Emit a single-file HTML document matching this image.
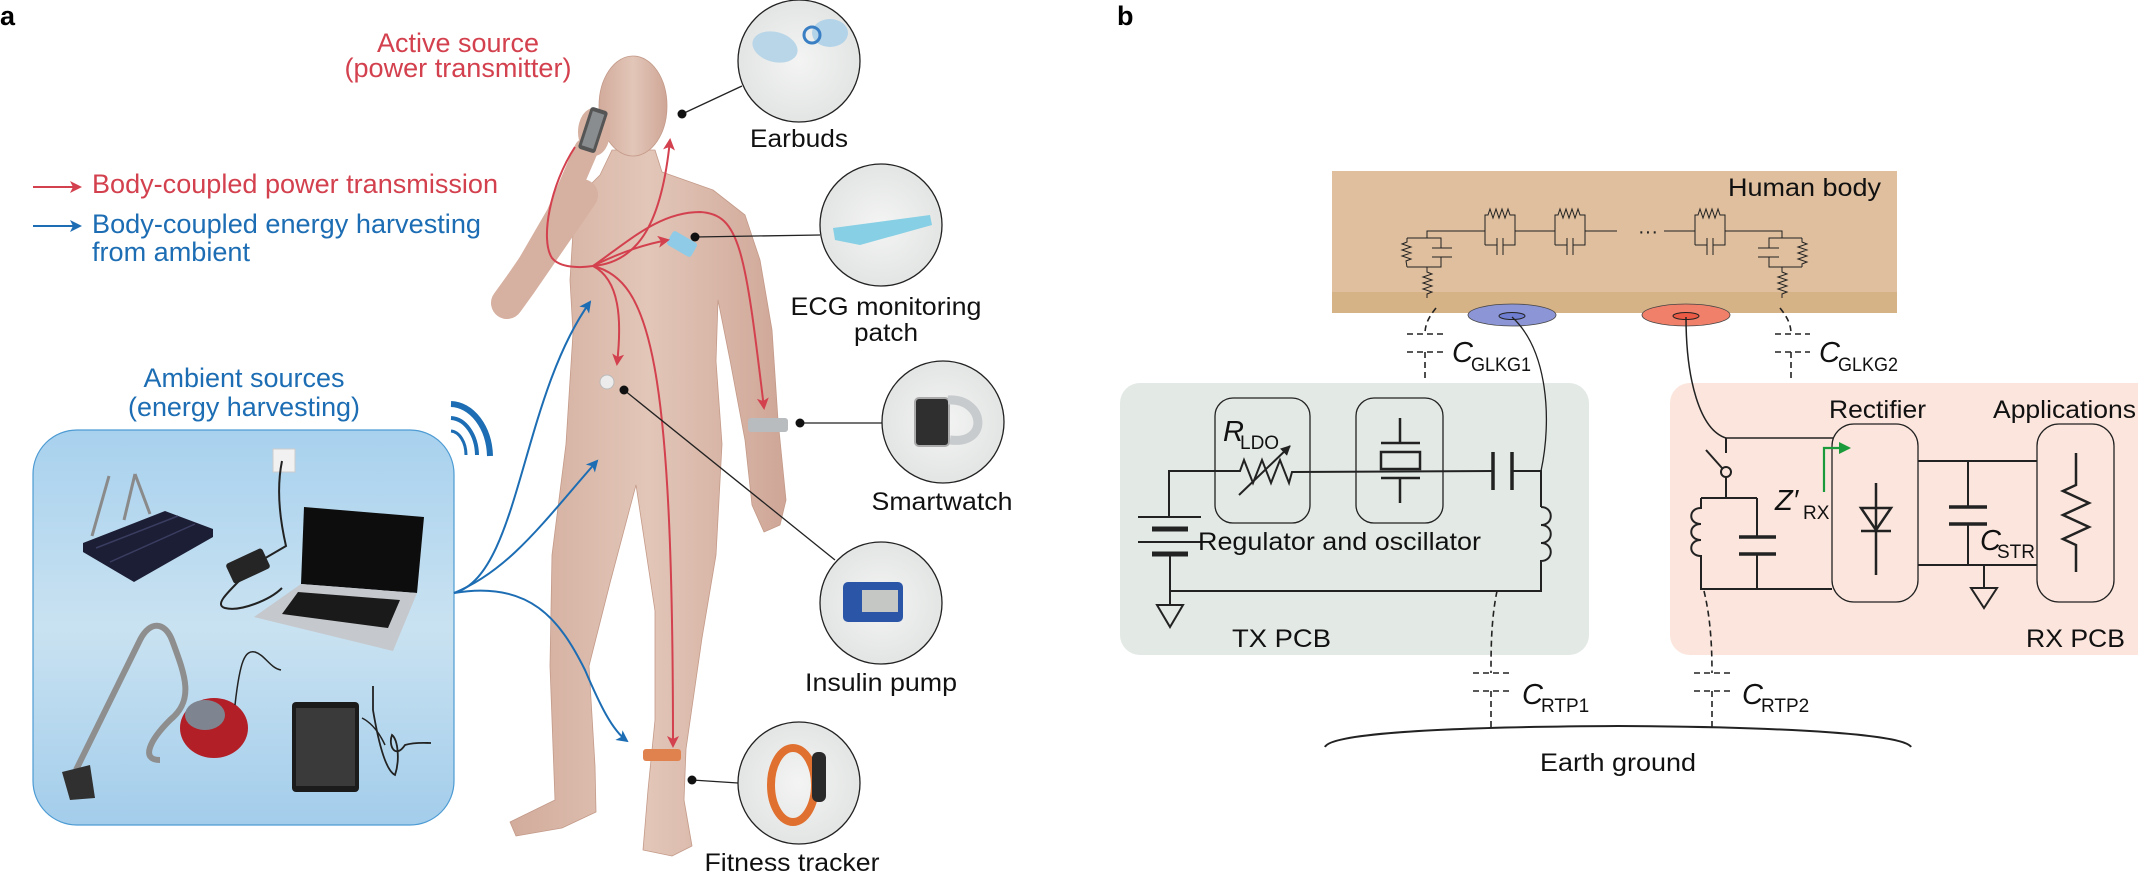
<!DOCTYPE html>
<html><head><meta charset="utf-8"><style>
html,body{margin:0;padding:0;background:#fff;}
svg{display:block;}
text{font-family:"Liberation Sans",sans-serif;}
</style></head><body>
<svg width="2138" height="873" viewBox="0 0 2138 873" xmlns="http://www.w3.org/2000/svg">
<defs>
<linearGradient id="bx" x1="0" y1="0" x2="0" y2="1"><stop offset="0" stop-color="#a8d1ee"/><stop offset="0.5" stop-color="#c9e2f1"/><stop offset="1" stop-color="#a3cdeb"/></linearGradient>
<radialGradient id="ci" cx="0.5" cy="0.5" r="0.5"><stop offset="0" stop-color="#f3f4f3"/><stop offset="1" stop-color="#e3e5e4"/></radialGradient>
<linearGradient id="sk" x1="0" y1="0" x2="1" y2="0"><stop offset="0" stop-color="#d2ab9b"/><stop offset="0.5" stop-color="#e2c6b8"/><stop offset="1" stop-color="#cfa697"/></linearGradient>
<marker id="ar" markerWidth="12" markerHeight="12" refX="10" refY="6" orient="auto" markerUnits="userSpaceOnUse"><path d="M0,0 L12,6 L0,12 L3,6z" fill="#d3404e"/></marker>
<marker id="ab" markerWidth="12" markerHeight="12" refX="10" refY="6" orient="auto" markerUnits="userSpaceOnUse"><path d="M0,0 L12,6 L0,12 L3,6z" fill="#1c6db3"/></marker>
<marker id="ag" markerWidth="12" markerHeight="12" refX="10" refY="6" orient="auto" markerUnits="userSpaceOnUse"><path d="M0,0 L12,6 L0,12z" fill="#1a9a3a"/></marker>
<marker id="ak" markerWidth="10" markerHeight="10" refX="9" refY="5" orient="auto" markerUnits="userSpaceOnUse"><path d="M0,0 L10,5 L0,10z" fill="#222"/></marker>
</defs>

<!-- ============ Panel a ============ -->
<text x="0" y="25" font-size="27" font-weight="bold">a</text>
<text x="458" y="52" font-size="27" fill="#d3404e" text-anchor="middle" textLength="162" lengthAdjust="spacingAndGlyphs">Active source</text>
<text x="458" y="77" font-size="27" fill="#d3404e" text-anchor="middle" textLength="227" lengthAdjust="spacingAndGlyphs">(power transmitter)</text>

<line x1="33" y1="187" x2="80" y2="187" stroke="#d3404e" stroke-width="2" marker-end="url(#ar)"/>
<text x="92" y="193" font-size="27" fill="#d3404e" textLength="406" lengthAdjust="spacingAndGlyphs">Body-coupled power transmission</text>
<line x1="33" y1="226" x2="80" y2="226" stroke="#1c6db3" stroke-width="2" marker-end="url(#ab)"/>
<text x="92" y="233" font-size="27" fill="#1c6db3" textLength="389" lengthAdjust="spacingAndGlyphs">Body-coupled energy harvesting</text>
<text x="92" y="261" font-size="27" fill="#1c6db3" textLength="158" lengthAdjust="spacingAndGlyphs">from ambient</text>

<text x="244" y="387" font-size="27" fill="#1c6db3" text-anchor="middle" textLength="201" lengthAdjust="spacingAndGlyphs">Ambient sources</text>
<text x="244" y="416" font-size="27" fill="#1c6db3" text-anchor="middle" textLength="232" lengthAdjust="spacingAndGlyphs">(energy harvesting)</text>

<rect x="33" y="430" width="421" height="395" rx="44" fill="url(#bx)" stroke="#4d9bd3" stroke-width="1.2"/>
<g fill="none" stroke="#1c6db3">
<path d="M451,404 A40,54 0 0 1 490,456" stroke-width="6"/>
<path d="M451,418 A27,38 0 0 1 477,455" stroke-width="4"/>
<path d="M451,431 A16,24 0 0 1 466,455" stroke-width="3"/>
</g>
<line x1="109" y1="476" x2="92" y2="536" stroke="#8a8a8a" stroke-width="3"/>
<line x1="135" y1="474" x2="150" y2="514" stroke="#8a8a8a" stroke-width="3"/>
<line x1="135" y1="474" x2="124" y2="520" stroke="#8a8a8a" stroke-width="3"/>
<polygon points="83,543 165,511 213,529 213,537 134,582 83,552" fill="#1c1e35"/>
<path d="M96,548 L178,516 M110,562 L195,524" stroke="#3a3d60" stroke-width="1.5"/>
<rect x="273" y="449" width="22" height="23" fill="#f1f1f1" stroke="#ccc"/>
<path d="M282,461 C276,490 280,520 286,546 L262,560" fill="none" stroke="#222" stroke-width="2"/>
<rect x="228" y="555" width="40" height="22" rx="3" fill="#252525" transform="rotate(-25 248 566)"/>
<path d="M240,580 C225,595 215,605 225,608 C240,612 270,600 282,588" fill="none" stroke="#222" stroke-width="2"/>
<polygon points="304,507 424,517 417,593 301,584" fill="#0d0d0d"/>
<polygon points="301,584 417,593 393,651 254,617" fill="#c5c8cc"/>
<polygon points="298,592 400,600 388,628 282,614" fill="#1a1a1a"/>
<path d="M76,770 L140,640 C150,620 165,622 172,640 C185,675 195,700 170,720 C150,740 140,760 160,760" fill="none" stroke="#8e8e8e" stroke-width="6"/>
<path d="M62,772 L90,765 L95,798 L70,800 Z" fill="#303030"/>
<ellipse cx="214" cy="728" rx="34" ry="30" fill="#b21f27"/>
<ellipse cx="205" cy="715" rx="20" ry="15" fill="#7f8590"/>
<path d="M235,705 C240,660 245,650 255,652 C265,655 270,668 281,670" fill="none" stroke="#222" stroke-width="1.5"/>
<rect x="292" y="702" width="67" height="90" rx="4" fill="#1b1b1b"/>
<rect x="296" y="708" width="59" height="78" fill="#3a3a3a"/>
<path d="M373,686 L373,710 C378,740 385,770 395,775 C400,760 398,740 392,735 C388,745 395,760 405,745 C415,742 425,743 431,743" fill="none" stroke="#222" stroke-width="1.8"/>
<path d="M362,718 C370,722 378,730 385,745" fill="none" stroke="#222" stroke-width="1.5"/>

<!-- body -->
<g fill="url(#sk)" stroke="#c49a89" stroke-width="0.8" stroke-linejoin="round">
<path d="M612,150 L655,150 L662,172 L713,190 L745,215 L760,260 L772,330 L778,420 L786,500 L780,525 L764,532 L752,505 L745,440 L730,360 L718,300 L716,361 L722,444 L716,555 L702,638 L686,749 L684,800 L692,846 L672,856 L643,850 L648,790 L655,720 L655,611 L636,485 L610,583 L589,666 L595,766 L596,812 L562,828 L516,836 L510,822 L555,800 L550,666 L552,555 L566,444 L573,333 L570,280 L575,200 L600,175 Z"/>
<ellipse cx="633" cy="106" rx="34" ry="50"/>
</g>
<g fill="none" stroke="#d6b0a0" stroke-linecap="round" stroke-linejoin="round">
<path d="M582,195 L520,285 L507,303" stroke-width="32"/>
<path d="M507,303 L558,215 L586,150" stroke-width="24"/>
</g>
<ellipse cx="594" cy="132" rx="16" ry="24" fill="#d6b0a0"/>
<rect x="584" y="108" width="18" height="44" rx="3" fill="#555" transform="rotate(18 593 130)"/>
<rect x="587" y="112" width="12" height="36" fill="#8a8d90" transform="rotate(18 593 130)"/>
<rect x="748" y="418" width="40" height="14" rx="3" fill="#b9bcbe"/>
<rect x="643" y="749" width="38" height="12" rx="3" fill="#e0824e"/>
<rect x="668" y="236" width="28" height="16" rx="3" fill="#8fcbe6" transform="rotate(30 682 244)"/>
<circle cx="607" cy="382" r="7" fill="#ececec" stroke="#bbb"/>

<g fill="none" stroke="#d3404e" stroke-width="2">
<path d="M575,147 C550,185 540,240 552,258 C560,268 580,268 593,266"/>
<path d="M593,266 C640,262 662,220 670,140" marker-end="url(#ar)"/>
<path d="M593,266 C615,255 640,245 668,240" marker-end="url(#ar)"/>
<path d="M593,266 C620,280 622,320 617,364" marker-end="url(#ar)"/>
<path d="M593,266 C650,280 673,360 673,746" marker-end="url(#ar)"/>
<path d="M593,266 C630,240 660,212 700,212 C740,214 745,250 764,408" marker-end="url(#ar)"/>
</g>
<g fill="none" stroke="#1c6db3" stroke-width="2">
<path d="M454,593 C520,575 520,400 590,302" marker-end="url(#ab)"/>
<path d="M454,593 C510,570 545,520 597,461" marker-end="url(#ab)"/>
<path d="M454,593 C530,580 560,620 585,670 C600,705 612,730 627,741" marker-end="url(#ab)"/>
</g>

<g fill="url(#ci)" stroke="#222" stroke-width="1.3">
<circle cx="799" cy="61" r="61"/>
<circle cx="881" cy="225" r="61"/>
<circle cx="943" cy="422" r="61"/>
<circle cx="881" cy="603" r="61"/>
<circle cx="799" cy="783" r="61"/>
</g>
<ellipse cx="775" cy="47" rx="23" ry="15" fill="#b8d6e8" transform="rotate(15 775 47)"/>
<ellipse cx="830" cy="33" rx="18" ry="14" fill="#b3d3e8"/>
<circle cx="812" cy="35" r="8" fill="none" stroke="#3a7fc4" stroke-width="3"/>
<polygon points="833,228 930,215 932,225 860,245 835,240" fill="#86cfe4"/>
<rect x="915" y="398" width="34" height="48" rx="4" fill="#2f2f2f" stroke="#aaa" stroke-width="2"/>
<path d="M948,400 C985,398 990,445 950,440" fill="none" stroke="#c8cbcd" stroke-width="9"/>
<rect x="843" y="582" width="60" height="40" rx="5" fill="#2b56a8"/>
<rect x="862" y="590" width="36" height="22" fill="#c4c7c4"/>
<ellipse cx="793" cy="785" rx="22" ry="37" fill="none" stroke="#e07030" stroke-width="8"/>
<rect x="812" y="752" width="14" height="50" rx="6" fill="#2a2a2a"/>
<g stroke="#222" stroke-width="1.3">
<line x1="682" y1="114" x2="742" y2="86"/><line x1="695" y1="237" x2="820" y2="235"/>
<line x1="800" y1="423" x2="882" y2="423"/><line x1="624" y1="390" x2="835" y2="560"/>
<line x1="692" y1="780" x2="738" y2="783"/>
</g>
<g fill="#111"><circle cx="682" cy="114" r="4.5"/><circle cx="695" cy="237" r="4.5"/><circle cx="800" cy="423" r="4.5"/><circle cx="624" cy="390" r="4.5"/><circle cx="692" cy="780" r="4.5"/></g>
<g font-size="25" fill="#111" text-anchor="middle">
<text x="799" y="147" textLength="98" lengthAdjust="spacingAndGlyphs">Earbuds</text>
<text x="886" y="315" textLength="191" lengthAdjust="spacingAndGlyphs">ECG monitoring</text>
<text x="886" y="341" textLength="64" lengthAdjust="spacingAndGlyphs">patch</text>
<text x="942" y="510" textLength="141" lengthAdjust="spacingAndGlyphs">Smartwatch</text>
<text x="881" y="691" textLength="152" lengthAdjust="spacingAndGlyphs">Insulin pump</text>
<text x="792" y="871" textLength="175" lengthAdjust="spacingAndGlyphs">Fitness tracker</text>
</g>

<!-- ============ Panel b ============ -->
<text x="1117" y="25" font-size="27" font-weight="bold">b</text>
<rect x="1332" y="171" width="565" height="142" fill="#dfbf9e"/>
<rect x="1332" y="292" width="565" height="21" fill="#d6b287"/>
<text x="1881" y="196" font-size="25" fill="#111" text-anchor="end" textLength="153" lengthAdjust="spacingAndGlyphs">Human body</text>
<g fill="none" stroke="#222" stroke-width="1">
<path d="M1427,238 L1427,231 L1485,231 M1515,231 L1555,231 M1585,231 L1617,231 M1664,231 L1695,231 M1725,231 L1782,231 L1782,238"/>
<path d="M1485,245 L1485,215 L1488,215 l2,-6 l3,9 l3,-9 l3,9 l3,-9 l3,9 l3,-9 l2,6 L1515,215 L1515,245 L1503,245 M1497,245 L1485,245 M1497,238 V255 M1503,238 V255"/>
<path d="M1555,245 L1555,215 L1558,215 l2,-6 l3,9 l3,-9 l3,9 l3,-9 l3,9 l3,-9 l2,6 L1585,215 L1585,245 L1573,245 M1567,245 L1555,245 M1567,238 V255 M1573,238 V255"/>
<path d="M1695,245 L1695,215 L1698,215 l2,-6 l3,9 l3,-9 l3,9 l3,-9 l3,9 l3,-9 l2,6 L1725,215 L1725,245 L1713,245 M1707,245 L1695,245 M1707,238 V255 M1713,238 V255"/>
<path d="M1407,238 L1441,238 L1441,248 M1441,257 L1441,267 L1407,267 M1407,238 L1407,242 l-5,2 l9,3 l-9,3 l9,3 l-9,3 l9,3 l-5,2 L1407,267 M1432,248 H1452 M1432,257 H1452 M1427,267 L1427,272 l5,2 l-9,3 l9,3 l-9,3 l9,3 l-9,3 l9,3 l-5,2 L1427,298"/>
<path d="M1802,238 L1769,238 L1769,248 M1769,257 L1769,267 L1802,267 M1802,238 L1802,242 l5,2 l-9,3 l9,3 l-9,3 l9,3 l-9,3 l9,3 l-5,2 L1802,267 M1758,248 H1779 M1758,257 H1779 M1782,267 L1782,272 l5,2 l-9,3 l9,3 l-9,3 l9,3 l-9,3 l9,3 l-5,2 L1782,298"/>
</g>
<text x="1638" y="238" font-size="20" fill="#222">···</text>
<ellipse cx="1512" cy="315" rx="44" ry="11" fill="#8c95d6" stroke="#444" stroke-width="0.8"/>
<ellipse cx="1512" cy="316" rx="13" ry="3.5" fill="#6f7ed0" stroke="#222" stroke-width="1"/>
<ellipse cx="1686" cy="315" rx="44" ry="11" fill="#f0806a" stroke="#444" stroke-width="0.8"/>
<ellipse cx="1686" cy="316" rx="13" ry="3.5" fill="#ea5a45" stroke="#222" stroke-width="1"/>
<g fill="none" stroke="#222" stroke-width="1.6" stroke-dasharray="6,4">
<path d="M1436,308 C1428,318 1425,325 1425,334 M1425,352 L1425,382"/>
<path d="M1407,334 H1443 M1407,352 H1443"/>
<path d="M1780,308 C1788,318 1791,325 1791,334 M1791,352 L1791,382"/>
<path d="M1775,334 H1810 M1775,352 H1810"/>
</g>
<text x="1452" y="362" font-size="29" font-style="italic" fill="#111">C</text><text x="1471" y="371" font-size="19" fill="#111" textLength="60" lengthAdjust="spacingAndGlyphs">GLKG1</text>
<text x="1819" y="362" font-size="29" font-style="italic" fill="#111">C</text><text x="1838" y="371" font-size="19" fill="#111" textLength="60" lengthAdjust="spacingAndGlyphs">GLKG2</text>

<rect x="1120" y="383" width="469" height="272" rx="20" fill="#e3e9e5"/>
<text x="1232" y="647" font-size="25" fill="#111" textLength="99" lengthAdjust="spacingAndGlyphs">TX PCB</text>
<g fill="none" stroke="#222">
<rect x="1215" y="398" width="95" height="125" rx="18" stroke-width="1.3"/>
<rect x="1356" y="398" width="87" height="125" rx="18" stroke-width="1.3"/>
<path d="M1169,517 L1169,471 L1240,471 l4,-11 l9,23 l9,-23 l9,23 l9,-23 l9,23 l3,-11 L1493,471 M1512,471 L1541,471 L1541,507" stroke-width="2"/>
<path d="M1493,452 V490 M1512,452 V490" stroke-width="3.5"/>
<path d="M1239,495 L1290,446" stroke-width="2" marker-end="url(#ak)"/>
<path d="M1400,418 V443 M1400,478 V503 M1381,443 H1420 M1381,478 H1420" stroke-width="2.5"/>
<rect x="1381" y="452" width="39" height="17" stroke-width="2.5"/>
<path d="M1541,507 c13,0 13,18 0,18 c13,0 13,18 0,18 c13,0 13,18 0,18 L1541,591 L1170,591 L1170,554" stroke-width="2"/>
<path d="M1138,517 H1201 M1138,542 H1201" stroke-width="2"/>
<path d="M1152,529 H1188 M1152,554 H1188" stroke-width="5"/>
<path d="M1170,591 V605 M1157,605 H1183 L1170,627 Z" stroke-width="2"/>
<path d="M1541,471 C1552,420 1548,350 1512,317" stroke-width="1.3"/>
</g>
<text x="1223" y="441" font-size="29" font-style="italic" fill="#111">R</text><text x="1240" y="449" font-size="19" fill="#111">LDO</text>
<text x="1198" y="550" font-size="25" fill="#111" textLength="283" lengthAdjust="spacingAndGlyphs">Regulator and oscillator</text>

<rect x="1670" y="383" width="490" height="272" rx="20" fill="#fbe5dc"/>
<text x="2125" y="647" font-size="25" fill="#111" text-anchor="end" textLength="99" lengthAdjust="spacingAndGlyphs">RX PCB</text>
<text x="1829" y="418" font-size="25" fill="#111" textLength="97" lengthAdjust="spacingAndGlyphs">Rectifier</text>
<text x="1993" y="418" font-size="25" fill="#111" textLength="143" lengthAdjust="spacingAndGlyphs">Applications</text>
<g fill="none" stroke="#222">
<rect x="1832" y="424" width="86" height="178" rx="22" stroke-width="1.3"/>
<rect x="2037" y="424" width="77" height="178" rx="22" stroke-width="1.3"/>
<path d="M1686,317 C1686,380 1700,430 1726,438 L1833,438" stroke-width="1.5"/>
<path d="M1726,438 V453 M1706,450 L1722,468 M1726,477 V498 M1701,498 H1757 M1757,498 V537 M1757,554 V589 M1701,498 V508 c-13,0 -13,16 0,16 c-13,0 -13,16 0,16 c-13,0 -13,16 0,16 L1701,589 L1832,589" stroke-width="2"/>
<path d="M1739,537 H1776 M1739,554 H1776" stroke-width="3.5"/>
<circle cx="1726" cy="472" r="5" fill="#fbe5dc" stroke-width="2"/>
<path d="M1876,483 V575 M1861,531 H1891" stroke-width="2.5"/>
<path d="M1861,508 H1891 L1876,530 Z" stroke-width="2.5"/>
<path d="M1918,461 H2037 M1918,565 H2037 M1968,461 V507 M1968,524 V565" stroke-width="2"/>
<path d="M1949,507 H1987 M1949,524 H1987" stroke-width="3.5"/>
<path d="M1984,565 V588 M1971,588 H1997 L1984,608 Z" stroke-width="2"/>
<path d="M2076,453 V485 l-13,6 l26,12 l-26,12 l26,12 l-26,12 l13,6 V572" stroke-width="2.5"/>
</g>
<path d="M1824,492 V448 H1849" fill="none" stroke="#1a9a3a" stroke-width="2.2" marker-end="url(#ag)"/>
<text x="1775" y="510" font-size="29" font-style="italic" fill="#111">Z′</text><text x="1803" y="519" font-size="19" fill="#111">RX</text>
<text x="1980" y="550" font-size="29" font-style="italic" fill="#111">C</text><text x="1997" y="558" font-size="19" fill="#111">STR</text>

<g fill="none" stroke="#222" stroke-width="1.6" stroke-dasharray="6,4">
<path d="M1497,591 C1491,620 1491,650 1491,673 M1491,691 L1491,727"/>
<path d="M1473,673 H1509 M1473,691 H1509"/>
<path d="M1704,591 C1711,620 1712,650 1712,673 M1712,691 L1712,727"/>
<path d="M1694,673 H1730 M1694,691 H1730"/>
</g>
<text x="1522" y="704" font-size="29" font-style="italic" fill="#111">C</text><text x="1541" y="712" font-size="19" fill="#111">RTP1</text>
<text x="1742" y="704" font-size="29" font-style="italic" fill="#111">C</text><text x="1761" y="712" font-size="19" fill="#111">RTP2</text>
<path d="M1325,747 C1330,735 1420,727 1618,726 C1800,727 1905,735 1911,747" fill="none" stroke="#222" stroke-width="2"/>
<text x="1618" y="771" font-size="25" fill="#111" text-anchor="middle" textLength="156" lengthAdjust="spacingAndGlyphs">Earth ground</text>
</svg>
</body></html>
